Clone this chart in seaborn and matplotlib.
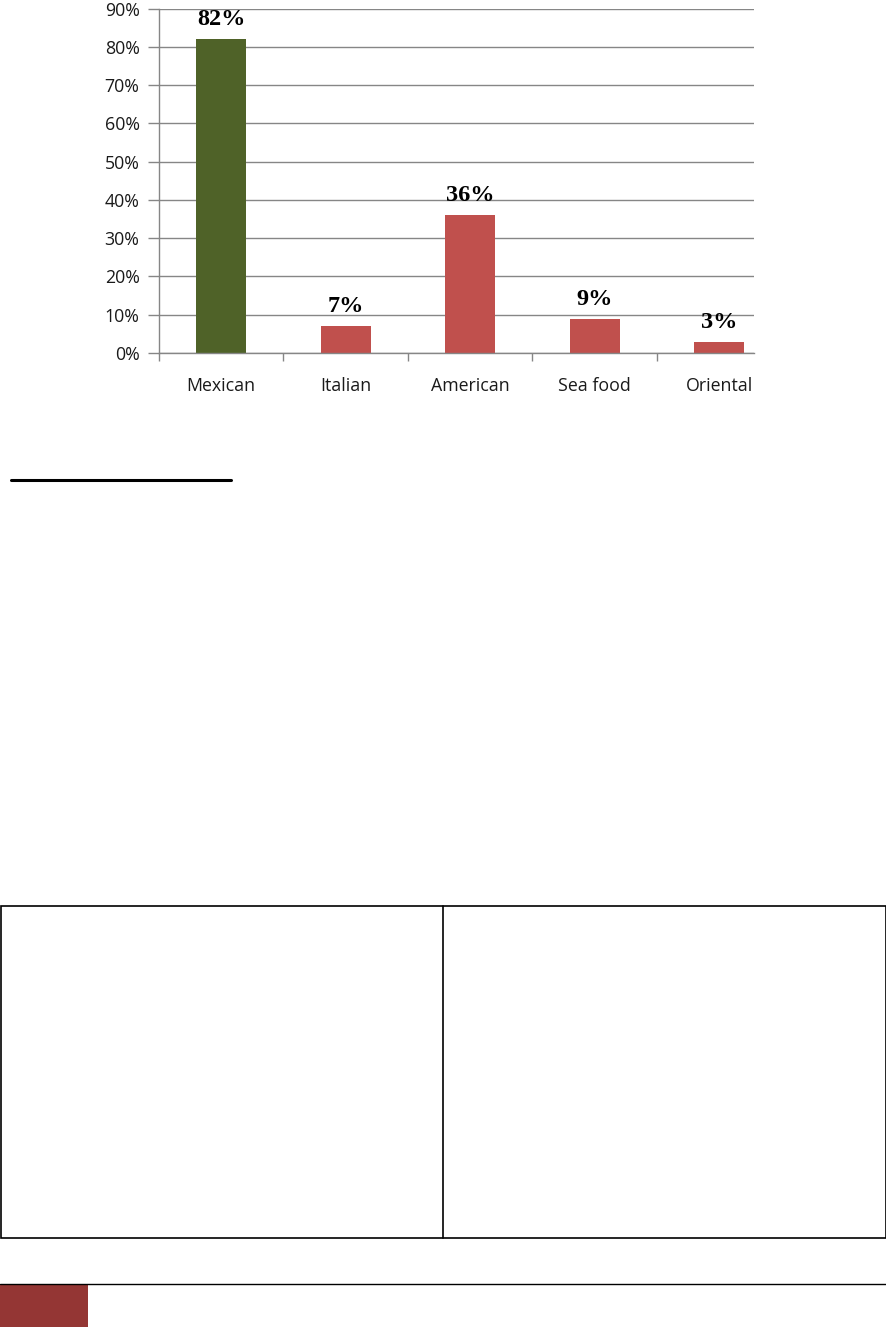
import matplotlib
matplotlib.use("Agg")
import matplotlib.pyplot as plt
from matplotlib.lines import Line2D
from matplotlib.patches import Rectangle
from matplotlib.ticker import FixedLocator, PercentFormatter
import seaborn as sns

# data
cuisines = ["Mexican", "Italian", "American", "Sea food", "Oriental"]
shares = [82, 7, 36, 9, 3]
bar_colors = ["#4F6228", "#C0504D", "#C0504D", "#C0504D", "#C0504D"]
y_ticks = [0, 10, 20, 30, 40, 50, 60, 70, 80, 90]

sns.set_theme(style="white")
plt.rcParams["font.family"] = ["Open Sans", "DejaVu Sans"]

W, H = 887, 1327
fig = plt.figure(figsize=(W / 100, H / 100), dpi=100)


def fx(px):
    return px / W


def fy(py):
    return 1 - py / H


# chart area in pixels of the page
left, right, top, bottom = 159, 754, 8.6, 353
ax = fig.add_axes([fx(left), fy(bottom), fx(right - left), (bottom - top) / H])

sns.barplot(x=cuisines, y=shares, hue=cuisines, palette=bar_colors,
            width=0.4, legend=False, saturation=1, linewidth=0, ax=ax)

grid_c = "#868686"
ax.set_ylim(0, 90)
ax.set_xlim(-0.5, 4.28)
ax.yaxis.set_major_locator(FixedLocator(y_ticks))
ax.yaxis.set_major_formatter(PercentFormatter(decimals=0))
ax.grid(axis="y", color=grid_c, linewidth=1)
ax.set_axisbelow(True)
for s in ["top", "right"]:
    ax.spines[s].set_visible(False)
for s in ["left", "bottom"]:
    ax.spines[s].set_color(grid_c)
    ax.spines[s].set_linewidth(1)

ax.tick_params(axis="y", which="major", direction="out", length=8, width=1,
               color=grid_c, pad=6, labelsize=12.8, labelcolor="#1a1a1a", left=True)
for lbl in ax.get_yticklabels():
    lbl.set_va("center_baseline")
ax.set_xticks(range(len(cuisines)))
ax.set_xticklabels(cuisines)
ax.set_xticks([-0.5, 0.5, 1.5, 2.5, 3.5], minor=True)
ax.tick_params(axis="x", which="major", length=0, pad=17, labelsize=12.8,
               labelcolor="#1a1a1a")
ax.tick_params(axis="x", which="minor", direction="out", length=6, width=1,
               color=grid_c, bottom=True)
ax.set_xlabel("")
ax.set_ylabel("")

for i, v in enumerate(shares):
    ax.annotate(f"{v}%", xy=(i, v), xytext=(0, 10), textcoords="offset points",
                ha="center", va="baseline", fontsize=17.5, fontweight="bold",
                family=["Liberation Serif", "DejaVu Serif"], color="black",
                clip_on=False)

# page decorations
fig.add_artist(Line2D([fx(11), fx(231)], [fy(480), fy(480)], color="black",
                      linewidth=2.2))
tbl_top, tbl_bot = 906, 1238
fig.add_artist(Rectangle((fx(0.8), fy(tbl_bot)), fx(885.5), (tbl_bot - tbl_top) / H,
                         fill=False, edgecolor="black", linewidth=1.2))
fig.add_artist(Line2D([fx(443), fx(443)], [fy(tbl_top), fy(tbl_bot)],
                      color="black", linewidth=1.2))
fig.add_artist(Line2D([fx(0), fx(887)], [fy(1284), fy(1284)], color="black",
                      linewidth=1.0))
fig.add_artist(Rectangle((0, 0), fx(88), fy(1285), facecolor="#943634",
                         edgecolor="none"))

fig.savefig("out.png", dpi=100)
